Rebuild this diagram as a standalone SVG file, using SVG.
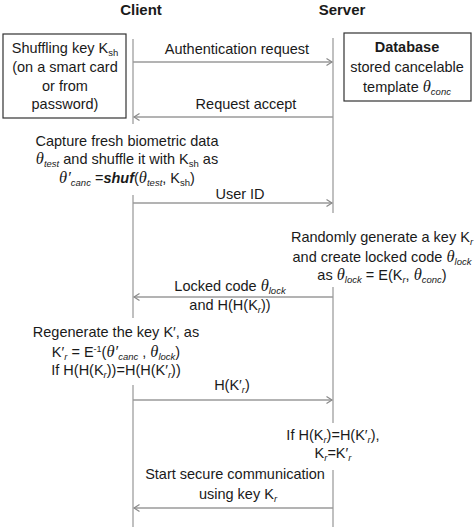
<svg xmlns="http://www.w3.org/2000/svg" width="474" height="532" viewBox="0 0 474 532">
<style>
text{font-family:"Liberation Sans",Arial,sans-serif;font-size:14.5px;fill:#1a1a1a}
.hd{font-size:15px;font-weight:bold}
.b{font-weight:bold}
.c{text-anchor:middle}
.m{font-family:"Liberation Serif","Times New Roman",serif;font-style:italic;font-size:16.5px}
.s{font-size:9.5px}
.si{font-size:9.5px;font-style:italic}
.sup{font-size:9px}
.box{fill:#fff;stroke:#333;stroke-width:1.2}
.life{stroke:#a6a6a6;stroke-width:1.4;fill:none}
.msg{stroke:#9a9a9a;stroke-width:1.3;fill:none}
</style>
<defs>
<marker id="ah" markerUnits="userSpaceOnUse" markerWidth="10" markerHeight="10" refX="6" refY="4" orient="auto">
<path d="M0.5,0.5 L6,4 L0.5,7.5" fill="none" stroke="#8a8a8a" stroke-width="1.2"/>
</marker>
</defs>
<rect width="474" height="532" fill="#fff"/>

<g id="client-header"><text class="hd c" x="141" y="15">Client</text></g>
<g id="server-header"><text class="hd c" x="342" y="15">Server</text></g>

<g id="lifelines">
<path class="life" d="M133,39 V124 M133,195 V318 M133,385 V527"/>
<path class="life" d="M333,38 V213 M333,287 V423 M333,470 V527"/>
</g>

<g id="key-box">
<rect class="box" x="3" y="34" width="123" height="84"/>
<text class="c" x="65" y="53">Shuffling key K<tspan class="s" dy="3">sh</tspan></text>
<text class="c" x="65" y="72">(on a smart card</text>
<text class="c" x="65" y="91">or from</text>
<text class="c" x="65" y="109">password)</text>
</g>

<g id="database-box">
<rect class="box" x="344" y="33" width="127" height="68"/>
<text class="c b" x="407" y="52">Database</text>
<text class="c" x="407" y="72">stored cancelable</text>
<text class="c" x="407" y="92">template <tspan class="m">θ</tspan><tspan class="si" dy="3">conc</tspan></text>
</g>

<g id="capture-note">
<text class="c" x="127" y="146">Capture fresh biometric data</text>
<text class="c" x="127" y="164"><tspan class="m">θ</tspan><tspan class="si" dy="3">test</tspan><tspan dy="-3"> and shuffle it with K</tspan><tspan class="s" dy="3">sh</tspan><tspan dy="-3"> as</tspan></text>
<text class="c" x="127" y="183"><tspan class="m">θ′</tspan><tspan class="si" dy="3">canc</tspan><tspan dy="-3"> =</tspan><tspan font-weight="bold" font-style="italic">shuf</tspan>(<tspan class="m">θ</tspan><tspan class="si" dy="3">test</tspan><tspan dy="-3">, K</tspan><tspan class="s" dy="3">sh</tspan><tspan dy="-3">)</tspan></text>
</g>

<g id="generate-note">
<text class="c" x="382" y="242">Randomly generate a key K<tspan class="si" dy="3">r</tspan></text>
<text class="c" x="382" y="262">and create locked code <tspan class="m">θ</tspan><tspan class="si" dy="3">lock</tspan></text>
<text class="c" x="382" y="280">as <tspan class="m">θ</tspan><tspan class="si" dy="3">lock</tspan><tspan dy="-3"> = E(K</tspan><tspan class="si" dy="3">r</tspan><tspan dy="-3">, </tspan><tspan class="m">θ</tspan><tspan class="si" dy="3">conc</tspan><tspan dy="-3">)</tspan></text>
</g>

<g id="regenerate-note">
<text class="c" x="116" y="337">Regenerate the key K′, as</text>
<text class="c" x="116" y="357">K′<tspan class="si" dy="3">r</tspan><tspan dy="-3"> = E</tspan><tspan class="sup" dy="-5">-1</tspan><tspan dy="5">(</tspan><tspan class="m">θ′</tspan><tspan class="si" dy="3">canc</tspan><tspan dy="-3"> , </tspan><tspan class="m">θ</tspan><tspan class="si" dy="3">lock</tspan><tspan dy="-3">)</tspan></text>
<text class="c" x="116" y="375">If H(H(K<tspan class="si" dy="3">r</tspan><tspan dy="-3">))=H(H(K′</tspan><tspan class="si" dy="3">r</tspan><tspan dy="-3">))</tspan></text>
</g>

<g id="verify-note">
<text class="c" x="333" y="440">If H(K<tspan class="si" dy="3">r</tspan><tspan dy="-3">)=H(K′</tspan><tspan class="si" dy="3">r</tspan><tspan dy="-3">),</tspan></text>
<text class="c" x="333" y="458">K<tspan class="si" dy="3">r</tspan><tspan dy="-3">=K′</tspan><tspan class="si" dy="3">r</tspan></text>
</g>

<g id="connectors">
<line class="msg" x1="133" y1="62" x2="332" y2="62" marker-end="url(#ah)"/>
<text class="c" x="237" y="54">Authentication request</text>
<line class="msg" x1="333" y1="117" x2="134" y2="117" marker-end="url(#ah)"/>
<text class="c" x="246" y="109">Request accept</text>
<line class="msg" x1="133" y1="203" x2="332" y2="203" marker-end="url(#ah)"/>
<text class="c" x="240" y="199">User ID</text>
<line class="msg" x1="333" y1="297" x2="134" y2="297" marker-end="url(#ah)"/>
<text class="c" x="230" y="291">Locked code <tspan class="m">θ</tspan><tspan class="si" dy="3">lock</tspan></text>
<text class="c" x="230" y="310">and H(H(K<tspan class="si" dy="3">r</tspan><tspan dy="-3">))</tspan></text>
<line class="msg" x1="133" y1="400" x2="332" y2="400" marker-end="url(#ah)"/>
<text class="c" x="232" y="390">H(K′<tspan class="si" dy="3">r</tspan><tspan dy="-3">)</tspan></text>
<line class="msg" x1="333" y1="508" x2="134" y2="508" marker-end="url(#ah)"/>
<text class="c" x="235" y="479">Start secure communication</text>
<text class="c" x="238" y="499">using key K<tspan class="si" dy="3">r</tspan></text>
</g>
</svg>
